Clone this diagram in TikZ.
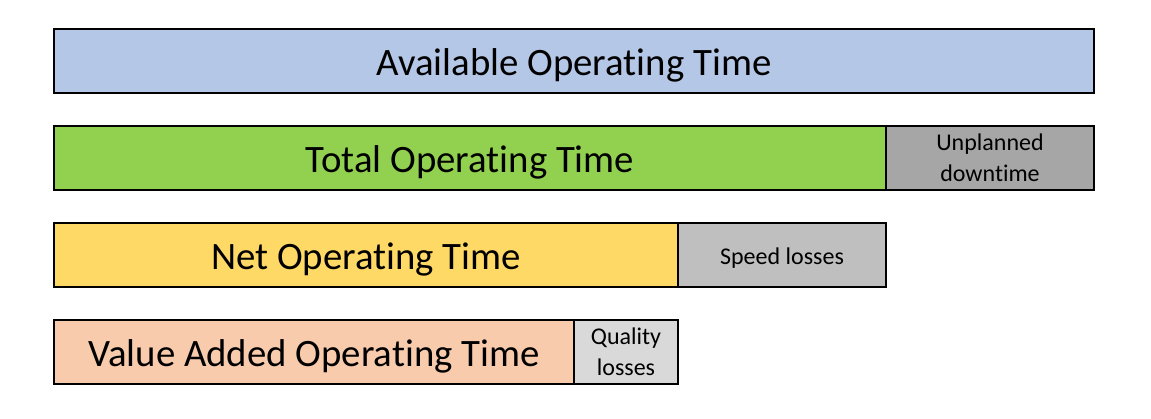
\documentclass[tikz,border=0pt]{standalone}
\usepackage{fontspec}
\setmainfont{Carlito}[Ligatures=NoCommon]
\usetikzlibrary{positioning}
\definecolor{availblue}{HTML}{B4C7E7}
\definecolor{totalgreen}{HTML}{92D050}
\definecolor{netyellow}{HTML}{FFD966}
\definecolor{valuepeach}{HTML}{F8CBAD}
\definecolor{lossdark}{HTML}{A6A6A6}
\definecolor{lossmid}{HTML}{BFBFBF}
\definecolor{losslight}{HTML}{D9D9D9}
\begin{document}
\begin{tikzpicture}[x=0.5pt, y=-0.5pt,
	bar/.style={draw=black, line width=1pt, minimum height=32pt, inner sep=0pt, outer sep=0pt, anchor=north west},
	big/.style={font=\fontsize{19.4}{23}\selectfont, text height=16pt, text depth=2pt},
	small/.style={font=\fontsize{12}{15.5}\selectfont, align=center}]
	\useasboundingbox (0,0) rectangle (1151,418);
	\node[bar, big, fill=availblue, minimum width=520pt] (avail) at (54,29) {Available Operating Time};
	\node[bar, big, fill=totalgreen, minimum width=416pt] (total) at (54,126) {Total Operating Time};
	\node[bar, small, fill=lossdark, minimum width=104pt, right=0pt of total] (unplanned) {Unplanned\\downtime};
	\node[bar, big, fill=netyellow, minimum width=312pt] (net) at (54,223) {Net Operating Time};
	\node[bar, small, fill=lossmid, minimum width=104pt, text height=9.5pt, text depth=0pt, right=0pt of net] (speed) {Speed losses};
	\node[bar, big, fill=valuepeach, minimum width=260pt] (value) at (54,320) {Value Added Operating Time};
	\node[bar, small, fill=losslight, minimum width=52pt, right=0pt of value] (quality) {Quality\\losses};
\end{tikzpicture}
\end{document}
